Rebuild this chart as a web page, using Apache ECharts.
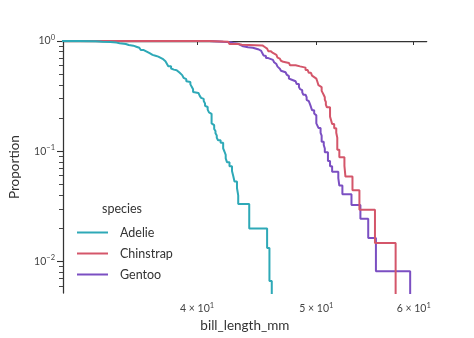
<!DOCTYPE html>
<html>
<head>
<meta charset="utf-8">
<script src="https://cdn.jsdelivr.net/npm/echarts@6/dist/echarts.min.js"></script>
<style>html,body{margin:0;padding:0;background:#fff}#c{width:474px;height:338px}</style>
</head>
<body>
<div id="c"></div>
<script>
// bill_length_mm samples per species (null = missing)
const adelie = [39.1,39.5,40.3,null,36.7,39.3,38.9,39.2,34.1,42.0,37.8,37.8,41.1,38.6,34.6,36.6,38.7,42.5,34.4,46.0,
37.8,37.7,35.9,38.2,38.8,35.3,40.6,40.5,37.9,40.5,39.5,37.2,39.5,40.9,36.4,39.2,38.8,42.2,37.6,39.8,
36.5,40.8,36.0,44.1,37.0,39.6,41.1,37.5,36.0,42.3,39.6,40.1,35.0,42.0,34.5,41.4,39.0,40.6,36.5,37.6,
35.7,41.3,37.6,41.1,36.4,41.6,35.5,41.1,35.9,41.8,33.5,39.7,39.6,45.8,35.5,42.8,40.9,37.2,36.2,42.1,
34.6,42.9,36.7,35.1,37.3,41.3,36.3,36.9,38.3,38.9,35.7,41.1,34.0,39.6,36.2,40.8,38.1,40.3,33.1,43.2,
35.0,41.0,37.7,37.8,37.9,39.7,38.6,38.2,38.1,43.2,38.1,45.6,39.7,42.2,39.6,42.7,38.6,37.3,35.7,41.1,
36.2,37.7,40.2,41.4,35.2,40.6,38.8,41.5,39.0,44.1,38.5,43.1,36.8,37.5,38.1,41.1,35.6,40.2,37.0,39.7,
40.2,40.6,32.1,40.7,37.3,39.0,39.2,36.6,36.0,37.8,36.0,41.5];
const chinstrap = [46.5,50.0,51.3,45.4,52.7,45.2,46.1,51.3,46.0,51.3,46.6,51.7,47.0,52.0,45.9,50.5,50.3,58.0,46.4,49.2,
42.4,48.5,43.2,50.6,46.7,52.0,50.5,49.5,46.4,52.8,40.9,54.2,42.5,51.0,49.7,47.5,47.6,52.0,46.9,53.5,
49.0,46.2,50.9,45.5,50.9,50.8,50.1,49.0,51.5,49.8,48.1,51.4,45.7,50.7,42.5,52.2,45.2,49.3,50.2,45.6,
51.9,46.8,45.7,55.8,43.5,49.6,50.8,50.2];
const gentoo = [46.1,50.0,48.7,50.0,47.6,46.5,45.4,46.7,43.3,46.8,40.9,49.0,45.5,48.4,45.8,49.3,42.0,49.2,46.2,48.7,
50.2,45.1,46.5,46.3,42.9,46.1,44.5,47.8,48.2,50.0,47.3,42.8,45.1,59.6,49.1,48.4,42.6,44.4,44.0,48.7,
42.7,49.6,45.3,49.6,50.5,43.6,45.5,50.5,44.9,45.2,46.6,48.5,45.1,50.1,46.5,45.0,43.8,45.5,43.2,50.4,
45.3,46.2,45.7,54.3,45.8,49.8,46.2,49.5,43.5,50.7,47.7,46.4,48.2,46.5,46.4,48.6,47.5,51.1,45.2,45.2,
49.1,52.5,47.4,50.0,44.9,50.8,43.4,51.3,47.5,52.1,47.5,52.2,45.5,49.5,44.5,50.8,49.4,46.9,48.4,51.1,
48.5,55.9,47.2,49.1,47.3,46.8,41.7,53.4,43.3,48.1,50.5,49.8,43.5,51.5,46.2,55.1,44.5,48.8,47.2,null,
46.8,50.4,45.2,49.9];

const speciesNames = ['Adelie', 'Chinstrap', 'Gentoo'];
const speciesColors = ['#2ea9b7', '#d4566a', '#7b4fc2'];
const xTickValues = [40, 50, 60];
const xTickMantissa = ['4', '5', '6'];
const yTickExponents = [-2, -1, 0];

const samples = [adelie, chinstrap, gentoo].map(a => a.filter(v => v != null).sort((p, q) => p - q));

// axis extents (log10 space, 5% margin like matplotlib; top sticky at 1)
const allVals = samples.flat();
const lx0 = Math.log10(Math.min(...allVals)), lx1 = Math.log10(Math.max(...allVals));
const xMin = lx0 - 0.05 * (lx1 - lx0), xMax = lx1 + 0.05 * (lx1 - lx0);
const ly0 = Math.log10(Math.min(...samples.map(s => 1 / s.length)));
const yMin = ly0 - 0.05 * (0 - ly0), yMax = 0;

function ccdf(sorted) {
  const n = sorted.length;
  const pts = [[xMin - 1, 0]];
  for (let i = 0; i < n; i++) {
    const s = (n - 1 - i) / n;
    pts.push([Math.log10(sorted[i]), s > 0 ? Math.log10(s) : -10]);
  }
  return pts;
}

const minorY = [];
for (let d = -3; d <= 0; d++) for (let k = 2; k <= 9; k++) {
  const v = d + Math.log10(k);
  if (v > yMin && v < yMax) minorY.push(v);
}

const supRich = {
  b: { fontSize: 10.5, color: '#444', fontFamily: 'Lato' },
  s: { fontSize: 7.5, color: '#444', fontFamily: 'Lato', padding: [0, 0, 7, 0] }
};
const axisColor = '#333';

// draw order: last species first so Adelie sits on top (like seaborn)
const drawOrder = [2, 1, 0];

const chart = echarts.init(document.getElementById('c'), null, { renderer: 'canvas' });
chart.setOption({
  animation: false,
  backgroundColor: '#fff',
  grid: { left: 60, top: 41, right: 47.3, bottom: 42 },
  xAxis: {
    type: 'value', min: xMin, max: xMax,
    name: 'bill_length_mm', nameLocation: 'middle', nameGap: 24,
    nameTextStyle: { fontSize: 13.5, color: '#333', fontFamily: 'Lato' },
    axisLine: { lineStyle: { color: axisColor, width: 1.25 } },
    axisTick: { customValues: xTickValues.map(v => Math.log10(v)), length: 4, lineStyle: { color: axisColor, width: 1 } },
    axisLabel: {
      customValues: xTickValues.map(v => Math.log10(v)), margin: 8,
      formatter: v => {
        const i = xTickValues.findIndex(t => Math.abs(Math.log10(t) - v) < 1e-9);
        return '{b|' + xTickMantissa[i] + ' × 10}{s|1}';
      },
      rich: supRich
    },
    splitLine: { show: false }
  },
  yAxis: [{
    type: 'value', min: yMin, max: yMax,
    name: 'Proportion', nameLocation: 'middle', nameGap: 41,
    nameTextStyle: { fontSize: 13.5, color: '#333', fontFamily: 'Lato' },
    axisLine: { show: true, lineStyle: { color: axisColor, width: 1.25 } },
    axisTick: { show: true, customValues: yTickExponents, length: 6, lineStyle: { color: axisColor, width: 1.1 } },
    axisLabel: {
      customValues: yTickExponents, margin: 8,
      formatter: v => '{b|10}{s|' + (Math.round(v) === 0 ? '0' : '−' + Math.abs(Math.round(v))) + '}',
      rich: supRich
    },
    splitLine: { show: false }
  }, {
    type: 'value', min: yMin, max: yMax, position: 'left', offset: 0,
    axisLine: { show: false },
    axisTick: { show: true, customValues: minorY, length: 4, lineStyle: { color: axisColor, width: 0.9 } },
    axisLabel: { show: false },
    splitLine: { show: false }
  }],
  legend: {
    orient: 'vertical', left: 72, top: 221,
    itemWidth: 31, itemHeight: 2, itemGap: 8, icon: 'rect',
    textStyle: { fontSize: 12.5, color: '#333', fontFamily: 'Lato', padding: [0, 0, 0, 7] },
    data: speciesNames
  },
  graphic: [{
    type: 'text', left: 102, top: 202,
    style: { text: 'species', fontSize: 12.5, fill: '#333', fontFamily: 'Lato' }
  }],
  series: drawOrder.map(i => ({
    name: speciesNames[i], type: 'line', step: 'end',
    data: ccdf(samples[i]), showSymbol: false, clip: true,
    lineStyle: { color: speciesColors[i], width: 2 },
    itemStyle: { color: speciesColors[i] }
  }))
});
</script>
</body>
</html>
